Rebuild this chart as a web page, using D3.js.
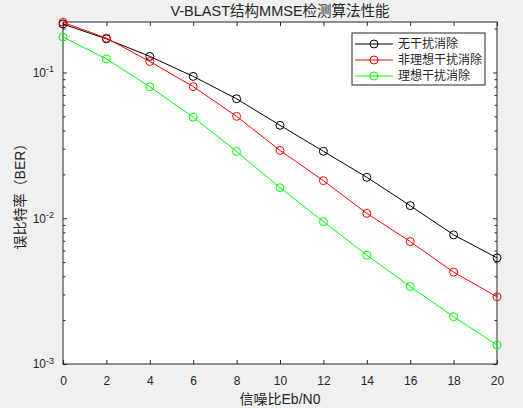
<!DOCTYPE html>
<html>
<head>
<meta charset="utf-8">
<script src="https://cdn.jsdelivr.net/npm/d3@7"></script>
<style>
  html, body { margin: 0; padding: 0; background: #f0f0f0; }
  svg { display: block; }
  text { font-family: "Liberation Sans", Arial, "Noto Sans CJK SC", sans-serif; fill: #262626; }
</style>
</head>
<body>
<div id="chart"></div>
<script>
// --- データ ---
const snr = [0, 2, 4, 6, 8, 10, 12, 14, 16, 18, 20];
const berNoCancel = [0.215, 0.170, 0.129, 0.094, 0.066, 0.0434, 0.0288, 0.0191, 0.0122, 0.00769, 0.00535];
const berNonIdeal = [0.221, 0.172, 0.119, 0.080, 0.050, 0.0292, 0.0181, 0.0108, 0.00692, 0.00427, 0.00289];
const berIdeal = [0.175, 0.124, 0.0798, 0.0494, 0.0287, 0.0162, 0.00948, 0.00558, 0.00340, 0.00211, 0.00135];
const seriesNames = ["无干扰消除", "非理想干扰消除", "理想干扰消除"];
const seriesColors = ["#000000", "#ff0000", "#00ff00"];
const xTicks = [0, 2, 4, 6, 8, 10, 12, 14, 16, 18, 20];
const yDecades = [-3, -2, -1];

const width = 523, height = 408;
const margin = { top: 22, right: 26, bottom: 44, left: 63 };
const innerW = width - margin.left - margin.right;
const innerH = height - margin.top - margin.bottom;

const svg = d3.select("#chart").append("svg")
    .attr("width", width)
    .attr("height", height);

svg.append("rect").attr("width", width).attr("height", height).attr("fill", "#f0f0f0");

const g = svg.append("g").attr("transform", `translate(${margin.left},${margin.top})`);

const x = d3.scaleLinear().domain([0, 20]).range([0, innerW]);
const y = d3.scaleLog().domain([1e-3, 0.222]).range([innerH, 0]);

// プロット領域
g.append("rect").attr("width", innerW).attr("height", innerH).attr("fill", "#fff");

// 軸 (内向きの目盛り, MATLAB風)
const axisColor = "#262626";
const tickLen = 4;

const minorTicks = [];
yDecades.forEach(d => {
    for (let k = 2; k <= 9; k++) {
        const v = k * Math.pow(10, d);
        if (v <= y.domain()[1]) minorTicks.push(v);
    }
});

function drawAxis(sel, axis) {
    sel.call(axis);
    sel.select(".domain").remove();
    sel.selectAll(".tick line").attr("stroke", axisColor);
    sel.selectAll(".tick text").attr("fill", axisColor)
        .style("font-size", "12px").style("font-family", "'Liberation Sans', Arial, sans-serif");
}

// 下のx軸
drawAxis(g.append("g").attr("transform", `translate(0,${innerH})`),
    d3.axisBottom(x).tickValues(xTicks).tickSizeInner(-tickLen).tickSizeOuter(0).tickPadding(12).tickFormat(d3.format("d")));
// 上のx軸 (ラベルなし)
drawAxis(g.append("g"),
    d3.axisTop(x).tickValues(xTicks).tickSizeInner(-tickLen).tickSizeOuter(0).tickFormat(""));

// 左のy軸 (主目盛り)
const yLeft = g.append("g");
drawAxis(yLeft, d3.axisLeft(y).tickValues(yDecades.map(d => Math.pow(10, d)))
    .tickSizeInner(-tickLen).tickSizeOuter(0).tickPadding(9).tickFormat(""));
yLeft.selectAll(".tick text").each(function(d) {
    const t = d3.select(this);
    t.text(null).attr("dy", "0.32em");
    t.append("tspan").text("10");
    t.append("tspan").attr("dy", "-0.5em").style("font-size", "9px").text(Math.round(Math.log10(d)));
});
// 右のy軸
drawAxis(g.append("g").attr("transform", `translate(${innerW},0)`),
    d3.axisRight(y).tickValues(yDecades.map(d => Math.pow(10, d)))
    .tickSizeInner(-tickLen).tickSizeOuter(0).tickFormat(""));
// 副目盛り
drawAxis(g.append("g"), d3.axisLeft(y).tickValues(minorTicks).tickSizeInner(-2.5).tickSizeOuter(0).tickFormat(""));
drawAxis(g.append("g").attr("transform", `translate(${innerW},0)`),
    d3.axisRight(y).tickValues(minorTicks).tickSizeInner(-2.5).tickSizeOuter(0).tickFormat(""));

// 枠
g.append("rect").attr("width", innerW).attr("height", innerH)
    .attr("fill", "none").attr("stroke", axisColor).attr("stroke-width", 1);

// データ系列
const allSeries = [berNoCancel, berNonIdeal, berIdeal];
const line = d3.line().x((d, i) => x(snr[i])).y(d => y(d));

allSeries.forEach((values, s) => {
    g.append("path")
        .datum(values)
        .attr("d", line)
        .attr("fill", "none")
        .attr("stroke", seriesColors[s])
        .attr("stroke-width", 1);
    g.selectAll(null)
        .data(values)
        .enter().append("circle")
        .attr("cx", (d, i) => x(snr[i]))
        .attr("cy", d => y(d))
        .attr("r", 4)
        .attr("fill", "none")
        .attr("stroke", seriesColors[s])
        .attr("stroke-width", 1);
});

// タイトル・軸ラベル
svg.append("text")
    .attr("x", margin.left + innerW / 2).attr("y", 16)
    .attr("text-anchor", "middle")
    .style("font-size", "14.5px")
    .text("V-BLAST结构MMSE检测算法性能");

svg.append("text")
    .attr("x", margin.left + innerW / 2).attr("y", 404)
    .attr("text-anchor", "middle")
    .style("font-size", "14px")
    .text("信噪比Eb/N0");

svg.append("text")
    .attr("transform", `translate(25,${margin.top + innerH / 2}) rotate(-90)`)
    .attr("text-anchor", "middle")
    .style("font-size", "14px")
    .text("误比特率（BER）");

// 凡例
const legend = svg.append("g").attr("transform", "translate(352,33)");
legend.append("rect").attr("width", 133).attr("height", 52)
    .attr("fill", "#fff").attr("stroke", axisColor).attr("stroke-width", 1);
seriesNames.forEach((name, i) => {
    const ly = 11 + i * 16;
    legend.append("line").attr("x1", 3).attr("x2", 41).attr("y1", ly).attr("y2", ly)
        .attr("stroke", seriesColors[i]).attr("stroke-width", 1);
    legend.append("circle").attr("cx", 22).attr("cy", ly).attr("r", 4)
        .attr("fill", "none").attr("stroke", seriesColors[i]);
    legend.append("text").attr("x", 46).attr("y", ly).attr("dy", "0.35em")
        .style("font-size", "12px").text(name);
});
</script>
</body>
</html>
